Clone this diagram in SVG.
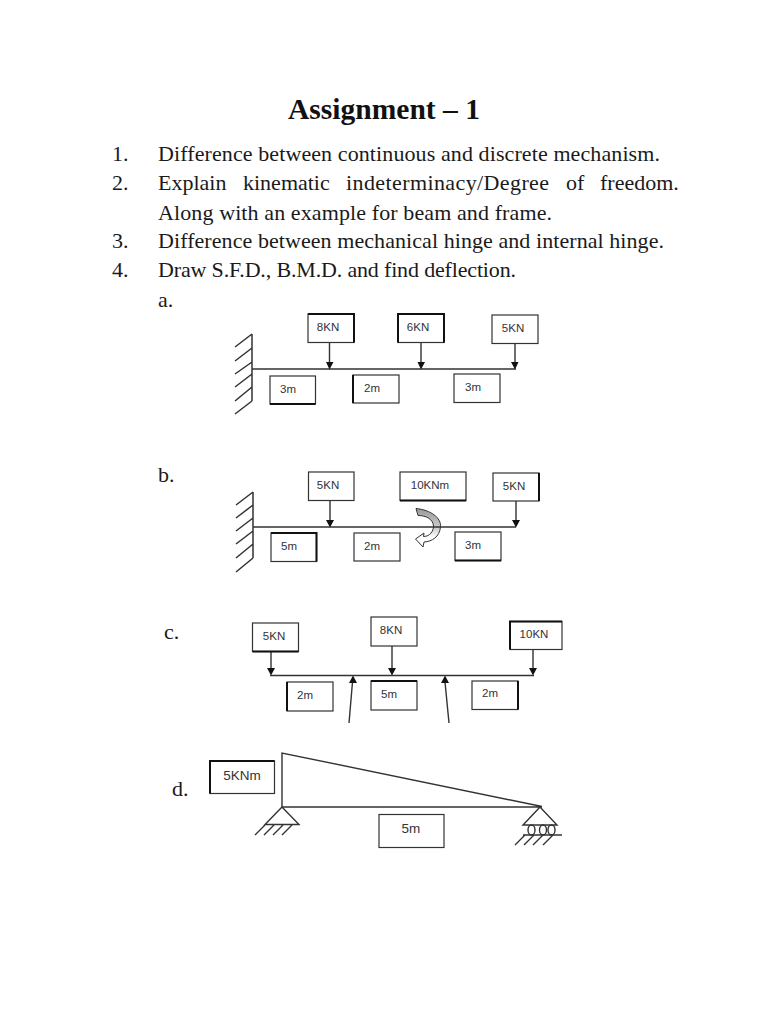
<svg xmlns="http://www.w3.org/2000/svg" width="768" height="1024" viewBox="0 0 768 1024">
<style>
.t{font-family:"Liberation Serif","DejaVu Serif",serif;font-size:22px;fill:#1a1a1a}
.l{font-family:"Liberation Sans",Arial,sans-serif;font-size:11.500px;fill:#333}
.m{font-family:"Liberation Sans",Arial,sans-serif;font-size:13.500px;fill:#333}
.b{fill:#fff;stroke:#333;stroke-width:1.200}
.c{fill:none;stroke:#333;stroke-width:1.400}
.h{fill:none;stroke:#333;stroke-width:1.500}
.k{fill:none;stroke:#111;stroke-width:2}
</style>
<defs>
<linearGradient id="g" x1="0" y1="0" x2="0" y2="1"><stop offset="0" stop-color="#999"/><stop offset="0.5" stop-color="#ccc"/><stop offset="0.75" stop-color="#fff"/></linearGradient>
</defs>
<rect width="768" height="1024" fill="#fff"/>
<g id="text">
<text x="288" y="119" font-family="Liberation Serif,serif" font-size="29.500" font-weight="700" fill="#111" textLength="192">Assignment – 1</text>
<text class="t" x="112" y="161">1.</text><text class="t" x="158" y="161" textLength="502">Difference between continuous and discrete mechanism.</text>
<text class="t" x="112" y="190">2.</text><text class="t" y="190"><tspan x="158">Explain </tspan><tspan x="243">kinematic </tspan><tspan x="346" letter-spacing="0.400">indeterminacy/Degree </tspan><tspan x="566">of </tspan><tspan x="600">freedom.</tspan></text>
<text class="t" x="158" y="220" textLength="394">Along with an example for beam and frame.</text>
<text class="t" x="112" y="248">3.</text><text class="t" x="158" y="248" textLength="506">Difference between mechanical hinge and internal hinge.</text>
<text class="t" x="112" y="277">4.</text><text class="t" x="158" y="277" textLength="358">Draw S.F.D., B.M.D. and find deflection.</text>
<text class="t" x="158" y="307">a.</text>
<text class="t" x="158" y="482">b.</text>
<text class="t" x="164" y="639">c.</text>
<text class="t" x="172" y="796">d.</text>
</g>
<g id="moment"><path d="M416 508.500C431 510 441.500 518 440.500 527C439.500 537 432 541.500 424 542L423 547L415.500 539L424 533L423.500 536.500C430 536.500 433.500 531 433.500 526C433 519 426 515.500 418 515.500Z" fill="url(#g)" stroke="#333" stroke-width="1"/></g>
<g id="connectors">
<path class="c" d="M252 369H516M329.500 343V364M421 343V364M515 344V364"/>
<path class="h" d="M252 334V401M252 334L235 347M252 348L235 361M252 362L235 374M252 374L235 387M252 387L235 401M252 401L235 414"/>
<path class="c" d="M253 527H516M330 501V522M516 500V522"/>
<path class="h" d="M253 492V558M253 492L236 505M253 505L236 518M253 518L236 531M253 531L236 544M253 544L236 558M253 558L236 572"/>
<path class="c" d="M270 675.500H534M271 652V670M392 646V670M533 649V670M349 723L352.500 682M449 723L445 682"/>
</g>
<g fill="#111" id="arrowheads">
<path d="M326 362H333.500L329.500 369.500ZM417.500 362H425L421 369.500ZM511 362H518.500L515 369.500ZM326 520H334L330 527.500ZM512 520H520L516 527.500ZM267 668H275L271 675.500ZM388 668H396L392 675.500ZM529 668H537L533 675.500ZM349 683H357L353 675.500ZM441 683H449L445 675.500Z"/>
</g>
<g id="n8kn"><rect class="b" x="308" y="314" width="46" height="28.500"/><path class="k" d="M308 314H354V342.500"/><text class="l" x="328" y="331" text-anchor="middle">8KN</text></g>
<g id="n6kn"><rect class="b" x="398" y="314" width="46" height="28.500"/><path class="k" d="M398 342.500V314H444V342.500"/><text class="l" x="418" y="331" text-anchor="middle">6KN</text></g>
<g id="n5kn"><rect class="b" x="492" y="315" width="46" height="28.500"/><text class="l" x="513" y="332" text-anchor="middle">5KN</text></g>
<g id="a3m"><rect class="b" x="270" y="376" width="45.500" height="28"/><path class="k" d="M270 404H315.500"/><text class="l" x="288" y="393" text-anchor="middle">3m</text></g>
<g id="a2m"><rect class="b" x="353" y="375" width="46" height="28"/><path class="k" d="M353 375V403"/><text class="l" x="372" y="392" text-anchor="middle">2m</text></g>
<g id="a3mb"><rect class="b" x="454" y="374" width="46" height="28.500"/><text class="l" x="473" y="391" text-anchor="middle">3m</text></g>
<g id="b5kn"><rect class="b" x="308.500" y="472" width="45.500" height="28.500"/><text class="l" x="328" y="489" text-anchor="middle">5KN</text></g>
<g id="b10knm"><rect class="b" x="400" y="472" width="66" height="28.500"/><path class="k" d="M400 500.500H466"/><text class="l" x="430" y="489" text-anchor="middle">10KNm</text></g>
<g id="b5knb"><rect class="b" x="493" y="473" width="46" height="28"/><path class="k" d="M539 473V501"/><text class="l" x="514" y="490" text-anchor="middle">5KN</text></g>
<g id="b5m"><rect class="b" x="271" y="533" width="45.500" height="28.500"/><path class="k" d="M271 533H316.500V561.500"/><text class="l" x="289" y="550" text-anchor="middle">5m</text></g>
<g id="b2m"><rect class="b" x="354" y="533" width="46" height="28"/><text class="l" x="372" y="550" text-anchor="middle">2m</text></g>
<g id="b3m"><rect class="b" x="455" y="532" width="46" height="28.500"/><path class="k" d="M455 560.500H501"/><text class="l" x="473" y="549" text-anchor="middle">3m</text></g>
<g id="c5kn"><rect class="b" x="252.500" y="623" width="46" height="28.500"/><path class="k" d="M252.500 651.500H298.500"/><text class="l" x="274" y="640" text-anchor="middle">5KN</text></g>
<g id="c8kn"><rect class="b" x="371" y="617" width="46" height="29"/><text class="l" x="391" y="634" text-anchor="middle">8KN</text></g>
<g id="c10kn"><rect class="b" x="510" y="621.500" width="52" height="28"/><path class="k" d="M510 649.500V621.500H562"/><text class="l" x="534" y="638" text-anchor="middle">10KN</text></g>
<g id="c2m"><rect class="b" x="287" y="682" width="46" height="29"/><path class="k" d="M287 682V711"/><text class="l" x="305" y="699" text-anchor="middle">2m</text></g>
<g id="c5m"><rect class="b" x="371" y="681" width="46" height="29"/><path class="k" d="M371 681H417"/><text class="l" x="389" y="698" text-anchor="middle">5m</text></g>
<g id="c2mb"><rect class="b" x="472" y="681" width="46" height="28.500"/><path class="k" d="M518 681V709.500"/><text class="l" x="490" y="697" text-anchor="middle">2m</text></g>
<g id="d5knm"><rect class="b" x="210" y="761" width="64.500" height="32.500"/><path class="k" d="M210 793.500V761H274.500"/><text class="m" x="242" y="780" text-anchor="middle">5KNm</text></g>
<g id="d5m"><rect class="b" x="379" y="814.500" width="65" height="33"/><text class="m" x="411" y="833" text-anchor="middle">5m</text></g>
<g id="load"><path class="c" d="M282 807V753L542 806.500M282 807H542"/></g>
<g id="pin"><path class="c" d="M282 807L265 824.500H299ZM265 825L255 835M274 825L264 835M283 825L273 835M292 825L282 835"/></g>
<g id="roller"><path class="c" d="M540 807L523 825H557ZM523 835H562M525 835L515 845M534 835L524 845M543 835L533 845M553 835L543 845"/><ellipse class="c" cx="531.500" cy="830" rx="3.500" ry="5"/><ellipse class="c" cx="543" cy="830" rx="3.500" ry="5"/><ellipse class="c" cx="551.500" cy="830" rx="3.500" ry="5"/></g>
</svg>
